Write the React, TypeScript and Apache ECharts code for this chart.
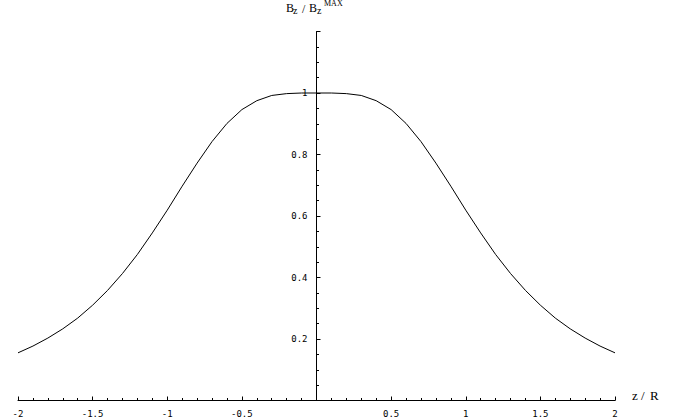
import React, { useEffect, useRef } from "react";
import * as echarts from "echarts";

const zValues = [
  -2.0, -1.9, -1.8, -1.7, -1.6, -1.5, -1.4, -1.3, -1.2, -1.1, -1.0, -0.9, -0.8, -0.7, -0.6, -0.5, -0.4, -0.3, -0.2, -0.1,
  0.0, 0.1, 0.2, 0.3, 0.4, 0.5, 0.6, 0.7, 0.8, 0.9, 1.0, 1.1, 1.2, 1.3, 1.4, 1.5, 1.6, 1.7, 1.8, 1.9, 2.0,
];
const bValues = [
  0.155, 0.177, 0.203, 0.233, 0.268, 0.31, 0.358, 0.413, 0.475, 0.545, 0.619, 0.697, 0.772, 0.842, 0.901, 0.946, 0.975, 0.992, 0.998, 1.0,
  1.0, 1.0, 0.998, 0.992, 0.975, 0.946, 0.901, 0.842, 0.772, 0.697, 0.619, 0.545, 0.475, 0.413, 0.358, 0.31, 0.268, 0.233, 0.203, 0.177, 0.155,
];

const X_MIN = -2;
const X_MAX = 2;
const X_INTERVAL = 0.5;
const Y_MIN = 0;
const Y_MAX = 1.2;
const Y_INTERVAL = 0.2;

const TICK_FONT = "'DejaVu Sans Mono', 'Liberation Mono', monospace";
const TITLE_FONT = "'Liberation Serif', 'DejaVu Serif', serif";

const GRID_LEFT = 18;
const GRID_RIGHT = 61;
const WIDTH = 676;

export default function App() {
  const ref = useRef<HTMLDivElement>(null);

  useEffect(() => {
    document.body.style.margin = "0";
    if (!ref.current) return;
    const chart = echarts.init(ref.current, undefined, { renderer: "svg" });
    const data = zValues.map((z, i) => [z, bValues[i]]);
    const plotWidth = WIDTH - GRID_LEFT - GRID_RIGHT;
    // place the y axis at z = 0 (labels follow the axis)
    const yAxisOffset = -plotWidth * ((0 - X_MIN) / (X_MAX - X_MIN));
    const titleText = (text: string, x: number, y: number, size: number) => ({
      type: "text",
      x,
      y,
      style: {
        text,
        font: `${size}px ${TITLE_FONT}`,
        fill: "#000",
        textVerticalAlign: "bottom",
        verticalAlign: "bottom",
      },
      silent: true,
    });
    chart.setOption({
      animation: false,
      backgroundColor: "#fff",
      grid: {
        left: GRID_LEFT,
        right: GRID_RIGHT,
        top: 31.5,
        bottom: 17.5,
        containLabel: false,
        outerBoundsMode: "none",
      },
      xAxis: {
        type: "value",
        min: X_MIN,
        max: X_MAX,
        interval: X_INTERVAL,
        axisLine: { show: true, onZero: false, lineStyle: { color: "#000", width: 1 } },
        axisTick: { show: true, inside: true, length: 4, lineStyle: { color: "#000", width: 1 } },
        minorTick: { show: true, splitNumber: 5, length: 2.5, lineStyle: { color: "#000", width: 1 } },
        splitLine: { show: false },
        axisLabel: {
          show: true,
          margin: 9,
          lineHeight: 8,
          color: "#000",
          fontFamily: TICK_FONT,
          fontSize: 9,
          formatter: (v: number) => (Math.abs(v) < 1e-9 ? "" : String(v)),
        },
      },
      yAxis: {
        type: "value",
        min: Y_MIN,
        max: Y_MAX,
        interval: Y_INTERVAL,
        offset: yAxisOffset,
        axisLine: { show: true, onZero: false, lineStyle: { color: "#000", width: 1 } },
        axisTick: { show: true, inside: true, length: 4, lineStyle: { color: "#000", width: 1 } },
        minorTick: { show: true, splitNumber: 4, length: 2.5, lineStyle: { color: "#000", width: 1 } },
        splitLine: { show: false },
        axisLabel: {
          show: true,
          margin: 9,
          color: "#000",
          fontFamily: TICK_FONT,
          fontSize: 9,
          showMinLabel: false,
          showMaxLabel: false,
          formatter: (v: number) => (Math.abs(v) < 1e-9 || Math.abs(v - Y_MAX) < 1e-9 ? "" : String(Math.round(v * 10) / 10)),
        },
      },
      series: [
        {
          type: "line",
          data,
          showSymbol: false,
          symbol: "none",
          smooth: false,
          lineStyle: { color: "#000", width: 1 },
          silent: true,
        },
      ],
      graphic: [
        titleText("B", 286, 14, 12),
        titleText("z", 293, 15, 10),
        titleText("/", 302, 15, 12),
        titleText("B", 309, 14, 12),
        titleText("z", 317, 15, 10),
        titleText("MAX", 324, 7.5, 8),
        titleText("z", 632, 402, 13),
        titleText("/", 641, 402, 13),
        titleText("R", 650, 402, 13),
      ],
    });
    return () => chart.dispose();
  }, []);

  return (
    <div
      ref={ref}
      style={{ position: "absolute", left: 0, top: 0, width: 676, height: 418 }}
    />
  );
}
